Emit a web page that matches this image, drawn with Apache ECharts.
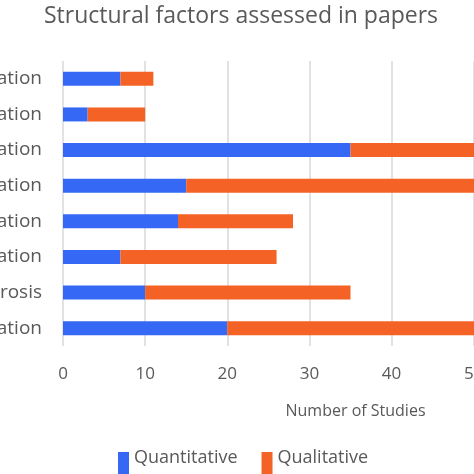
<!DOCTYPE html>
<html>
<head>
<meta charset="utf-8">
<script src="https://cdn.jsdelivr.net/npm/echarts@6/dist/echarts.min.js"></script>
<style>
html,body{margin:0;padding:0;overflow:hidden;background:#fff;width:474px;height:474px;}
#main{position:absolute;left:-200px;top:0;width:882px;height:474px;}
</style>
</head>
<body>
<div id="main"></div>
<script>
// top to bottom, left part of the labels is cut off in the source
var categories = ['Calcification','Ulceration','Inflammation','Vascularisation','Lipid accumulation','Cell proliferation','Necrosis','Matrix degradation'];
var quantitative = [7, 3, 35, 15, 14, 7, 10, 20];
var qualitative = [4, 7, 22, 40, 14, 19, 25, 37];
var xTicks = [0, 10, 20, 30, 40, 50, 60, 70];

var grey = '#595959';
var myChart = echarts.init(document.getElementById('main'));
var option = {
    animation:false,
    title:{
        text:'Structural factors assessed in papers',
        left:'center',
        top:0,
        textStyle:{fontFamily:'Open Sans',fontSize:23,fontWeight:'normal',color:grey}
    },
    legend:{
        left:313,
        top:444,
        itemWidth:11,
        itemHeight:30,
        itemGap:24,
        icon:'rect',
        // second empty line lifts the name to the top of the tall marker
        formatter:function(name){return name + '\n ';},
        textStyle:{fontFamily:'Open Sans',fontSize:18,lineHeight:18,color:grey},
        data:['Quantitative','Qualitative']
    },
    grid:{left:263,right:44,top:61,bottom:128,containLabel:false},
    xAxis:{
        type:'value',
        min:xTicks[0],
        max:xTicks[xTicks.length-1],
        interval:10,
        name:'Number of Studies',
        nameLocation:'middle',
        nameGap:57,
        nameTextStyle:{fontFamily:'Open Sans',fontSize:16,color:grey,padding:[0,0,0,10]},
        axisLine:{show:false},
        axisTick:{show:false},
        axisLabel:{margin:20,fontFamily:'Open Sans',fontSize:17,color:grey},
        splitLine:{show:true,lineStyle:{color:'#d9d9d9',width:1.5}}
    },
    yAxis:{
        type:'category',
        inverse:true,
        data:categories,
        axisLine:{show:false},
        axisTick:{show:false},
        axisLabel:{margin:21,fontFamily:'Open Sans',fontSize:19,color:grey}
    },
    series:[
        {name:'Quantitative',type:'bar',stack:'total',barWidth:14,data:quantitative,itemStyle:{color:'#3468f5'}},
        {name:'Qualitative',type:'bar',stack:'total',barWidth:14,data:qualitative,itemStyle:{color:'#f46225'}}
    ]
};
myChart.setOption(option);
</script>
</body>
</html>
